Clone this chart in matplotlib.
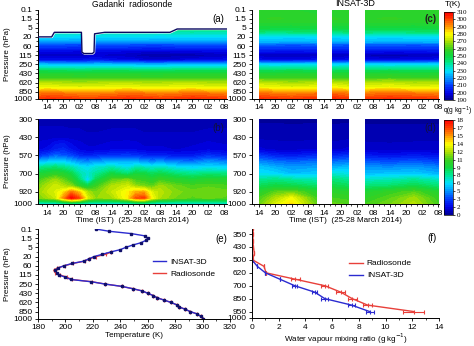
import numpy as np
import matplotlib
matplotlib.use('Agg')
import matplotlib.pyplot as plt
from matplotlib.colors import LinearSegmentedColormap
from matplotlib.lines import Line2D
from matplotlib.ticker import FixedLocator, FuncFormatter, MultipleLocator

plt.rcParams['font.family'] = ['Liberation Sans', 'DejaVu Sans']
nan = np.nan

# INSAT-3D retrieval levels (hPa); the pressure axes are spaced by level number
p_levels = [0.1, 0.2, 0.5, 1, 1.5, 2, 3, 4, 5, 7, 10, 15, 20, 25, 30, 50, 60, 70, 85, 100,
            115, 135, 150, 200, 250, 300, 350, 400, 430, 475, 500, 570, 620, 670, 700, 780,
            850, 920, 950, 1000]
p_ticks_full = [0.1, 1.5, 5, 20, 60, 115, 250, 430, 620, 850, 1000]
p_minor_full = [0.5, 3, 10, 30, 85, 150, 350, 500, 700]
p_ticks_low = [300, 430, 570, 700, 920, 1000]
p_ticks_f = [350, 430, 500, 620, 700, 850, 950, 1000]

# time in hours from 25 March 00 IST
time_ticks = [14, 20, 26, 32, 38, 44, 50, 56, 62, 68, 74, 80]
time_labels = ['14', '20', '02', '08', '14', '20', '02', '08', '14', '20', '02', '08']

T_cbar_ticks = [190, 200, 210, 220, 230, 240, 250, 260, 270, 280, 290, 300, 310]
q_cbar_ticks = [0, 1.5, 3, 4.5, 6, 7.5, 9, 10.5, 12, 13.5, 15, 16.5, 18]
q_cbar_labels = ['0', '2', '3', '5', '6', '8', '9', '11', '12', '14', '15', '17', '18']

# (a) Gadanki radiosonde temperature (K)
rs_time = [10.5, 14, 20, 26, 32, 38, 44, 50, 56, 62, 68, 74, 81]
rs_T_p = [5, 10, 20, 30, 60, 85, 115, 150, 250, 430, 620, 850, 1000]
rs_T = [
    [243, 243, 243, 243, 243, 243, 243, 243, 243, 243, 243, 243, 243],
    [236, 236, 236, 236, 237, 236, 236, 236, 236, 236, 237, 236, 236],
    [229, 229, 229, 228, 229, 229, 229, 229, 228, 229, 229, 229, 229],
    [221, 221, 221, 220, 221, 221, 221, 221, 220, 221, 221, 221, 221],
    [209, 209, 209, 208, 209, 209, 209, 208, 208, 209, 209, 209, 209],
    [201, 201, 201, 200, 201, 201, 200, 199, 199, 200, 200, 201, 201],
    [196, 196, 196, 196, 197, 196, 195, 193, 192, 193, 193, 194, 195],
    [201, 201, 201, 201, 202, 201, 200, 198, 197, 198, 199, 200, 201],
    [225, 224, 224, 223, 224, 224, 223, 222, 222, 223, 223, 224, 224],
    [253, 253, 253, 252, 253, 253, 253, 252, 252, 253, 253, 253, 253],
    [270, 270, 269, 268, 269, 270, 270, 269, 269, 270, 270, 269, 269],
    [289, 290, 289, 288, 288, 289, 290, 289, 288, 289, 290, 289, 288],
    [301, 303, 302, 300, 300, 301, 303, 302, 300, 301, 303, 302, 300],
]
# highest level reached by the soundings
rs_top_time = [10.5, 15.6, 16.6, 26.7, 26.9, 27.6, 30.8, 31.4, 31.6, 35.4, 59.7, 62.4, 81.0]
rs_top_hpa = [20, 20, 10, 10, 95, 104, 104, 95, 13, 10, 10, 6, 6]

# (b) Gadanki radiosonde water vapour mixing ratio (g/kg)
rsq_time = [10.5, 14, 17, 20, 23, 26, 29, 32, 38, 44, 47, 50, 53, 56, 62, 68, 74, 81]
rsq_p = [300, 430, 500, 570, 620, 670, 700, 780, 850, 920, 950, 1000]
rs_q = [
    [0.6, 0.6, 0.5, 0.5, 0.5, 0.5, 0.5, 0.5, 0.5, 0.5, 0.5, 0.5, 0.5, 0.5, 0.5, 0.5, 0.5, 0.5],
    [0.9, 0.9, 1.0, 1.0, 0.9, 0.9, 0.8, 0.8, 0.9, 0.9, 0.9, 0.8, 0.8, 0.8, 0.8, 0.8, 0.9, 0.9],
    [1.4, 1.6, 2.2, 2.4, 1.8, 1.4, 1.2, 1.2, 1.4, 1.5, 1.4, 1.2, 1.2, 1.2, 1.1, 1.2, 1.4, 1.2],
    [2.6, 3.0, 3.6, 3.4, 3.0, 2.4, 2.2, 2.4, 2.6, 2.8, 2.6, 2.4, 2.2, 2.2, 2.0, 2.0, 2.6, 2.2],
    [5.0, 5.4, 5.8, 5.6, 5.0, 4.4, 4.2, 4.6, 4.8, 5.0, 4.8, 4.4, 4.2, 4.4, 4.0, 3.8, 4.4, 4.0],
    [7.6, 8.0, 8.2, 7.8, 7.2, 6.4, 6.0, 6.6, 7.2, 6.2, 7.2, 7.0, 6.6, 7.0, 6.2, 5.8, 6.0, 5.8],
    [9.2, 9.6, 10.0, 9.6, 8.8, 7.2, 6.6, 7.4, 9.0, 8.0, 9.2, 9.0, 8.4, 8.8, 8.0, 7.6, 8.0, 7.8],
    [10.4, 11.2, 11.8, 11.0, 10.0, 8.2, 5.4, 8.6, 10.8, 11.4, 10.4, 10.2, 9.8, 10.4, 9.8, 9.4, 9.8, 9.6],
    [11.2, 12.0, 12.6, 12.0, 11.4, 9.8, 8.8, 10.2, 12.0, 12.6, 11.6, 11.2, 10.8, 11.8, 11.0, 10.6, 10.8, 10.6],
    [11.6, 12.4, 12.8, 13.8, 15.6, 14.2, 12.0, 11.2, 12.4, 13.6, 14.6, 14.8, 12.8, 12.2, 11.4, 11.0, 11.2, 11.0],
    [11.2, 11.8, 12.4, 15.2, 17.8, 16.2, 12.8, 11.6, 11.8, 13.8, 16.2, 16.6, 13.4, 12.0, 11.2, 10.8, 11.0, 10.8],
    [6.0, 6.0, 6.0, 6.2, 6.4, 6.2, 6.0, 6.0, 6.0, 6.0, 6.2, 6.2, 6.0, 6.0, 6.0, 6.0, 6.0, 6.0],
]

# (c) INSAT-3D temperature (K), nan = no retrieval
insat_time = [14, 20, 26, 35, 38, 41, 47, 50, 53, 62, 71, 80]
insat_T_p = [0.1, 1.5, 5, 10, 20, 60, 115, 150, 250, 430, 620, 850, 1000]
insat_T = [
    [255, 256, 255, 254, nan, 255, 256, nan, 255, 256, 255, 255],
    [257, 258, 257, 257, nan, 258, 257, nan, 257, 258, 257, 257],
    [251, 250, 250, 251, nan, 250, 251, nan, 250, 250, 250, 251],
    [242, 241, 242, 242, nan, 241, 242, nan, 242, 241, 242, 242],
    [229, 229, 228, 229, nan, 228, 229, nan, 229, 228, 229, 229],
    [211, 211, 210, 211, nan, 211, 210, nan, 211, 211, 210, 211],
    [195, 194, 194, 195, nan, 194, 195, nan, 194, 193, 194, 195],
    [201, 200, 200, 201, nan, 200, 201, nan, 200, 199, 200, 201],
    [228, 227, 228, 228, nan, 227, 228, nan, 228, 227, 228, 228],
    [252, 252, 253, 252, nan, 252, 252, nan, 252, 253, 252, 252],
    [271, 270, 268, 270, nan, 271, 269, nan, 270, 271, 269, 270],
    [290, 289, 288, 289, nan, 291, 289, nan, 289, 290, 289, 288],
    [303, 301, 300, 302, nan, 304, 301, nan, 301, 303, 302, 300],
]

# (d) INSAT-3D water vapour mixing ratio (g/kg)
insat_q_p = [300, 430, 500, 570, 620, 670, 700, 780, 850, 920, 950, 1000]
insat_q = [
    [0.3, 0.3, 0.3, 0.3, nan, 0.3, 0.3, nan, 0.3, 0.3, 0.3, 0.3],
    [0.6, 0.6, 0.5, 0.6, nan, 0.5, 0.6, nan, 0.5, 0.5, 0.5, 0.5],
    [1.2, 1.0, 1.0, 1.1, nan, 1.0, 1.2, nan, 1.0, 0.9, 1.0, 1.0],
    [2.8, 2.2, 2.0, 2.4, nan, 2.2, 2.6, nan, 2.0, 1.8, 2.0, 1.8],
    [4.2, 3.8, 3.6, 3.8, nan, 3.8, 4.0, nan, 3.4, 3.2, 3.4, 3.0],
    [5.5, 5.0, 4.6, 4.8, nan, 5.0, 5.4, nan, 4.5, 4.4, 4.6, 4.2],
    [6.0, 5.8, 5.2, 5.5, nan, 6.5, 6.2, nan, 5.2, 5.4, 5.5, 5.0],
    [7.5, 7.8, 7.4, 7.0, nan, 8.0, 7.5, nan, 6.8, 7.0, 7.5, 6.8],
    [8.5, 9.0, 8.8, 8.2, nan, 8.8, 8.5, nan, 8.0, 8.2, 8.8, 8.0],
    [9.8, 10.8, 11.2, 9.8, nan, 10.0, 9.8, nan, 9.5, 10.2, 10.8, 9.6],
    [10.5, 12.0, 13.2, 10.5, nan, 10.5, 10.3, nan, 10.0, 10.8, 11.8, 10.2],
    [11.0, 12.8, 14.0, 11.0, nan, 11.0, 10.8, nan, 10.5, 11.2, 12.2, 10.5],
]

# (e) temperature profiles (K)
insat_T_prof = [222, 232, 248, 258, 260, 258.5, 255, 249, 244, 240, 233, 227, 221, 217, 213.5,
                205, 199, 194.5, 192.7, 193.5, 195, 200, 204, 219, 229, 241, 249, 256, 260,
                264, 267, 272, 277, 281, 283, 287.5, 291, 296, 298.5, 300.5]
rs_T_prof_p = p_levels[10:]
rs_T_prof = [233.5, 229.5, 222.5, 217.5, 214, 205.5, 199.5, 194, 191.5, 192.5, 196, 201, 204.5,
             219.5, 229, 241, 249, 256, 260, 264, 267, 272, 277, 281, 283, 287.5, 291, 296,
             298.5, 300.5]

# (f) mixing ratio profiles (g/kg) with spread
rs_qprof_p = [300, 350, 400, 430, 475, 500, 570, 620, 670, 700, 780, 850, 920, 950]
rs_qprof = [0.08, 0.08, 0.07, 0.1, 0.18, 0.05, 0.9, 1.05, 3.25, 5.45, 6.65, 7.5, 8.65, 12.1]
rs_qprof_err = [0, 0, 0, 0, 0, 0, 0, 0, 0.35, 0.25, 0.35, 0.35, 0.35, 0.8]
insat_qprof_p = [500, 570, 620, 670, 700, 780, 850, 920, 950]
insat_qprof = [0.0, 0.4, 1.0, 2.1, 3.2, 4.7, 5.45, 7.45, 8.8]
insat_qprof_err = [0, 0, 0, 0, 0.2, 0.2, 0.25, 0.25, 0.3]

lev_idx = np.arange(len(p_levels))
log_lev = np.log(p_levels)


def p_to_idx(p):
    p = np.asarray(p, dtype=float)
    return np.interp(np.log(np.clip(p, 0.01, None)), log_lev, lev_idx)


def idx_to_p(i):
    return np.exp(np.interp(np.asarray(i, dtype=float), lev_idx, log_lev))


cmap = LinearSegmentedColormap.from_list('rainbow_origin', [
    (0.00, '#000090'), (0.08, '#0000e6'), (0.17, '#0040ff'), (0.25, '#0096ff'),
    (0.33, '#00e0ff'), (0.42, '#00e890'), (0.50, '#10d840'), (0.58, '#38d020'),
    (0.67, '#b0e000'), (0.75, '#ffff00'), (0.83, '#ffa000'), (0.92, '#ff4000'),
    (1.00, '#ff0000')])
T_levels = np.linspace(190, 310, 49)
q_levels = np.linspace(0, 18, 49)

W, H = 474, 346
fig = plt.figure(figsize=(W / 100, H / 100), dpi=100)


def add_ax(l, t, r, b):
    return fig.add_axes([l / W, 1 - b / H, (r - l) / W, (b - t) / H])


ax_a = add_ax(38, 9.5, 227, 98.5)
ax_c = add_ax(252, 9.5, 439, 98.5)
ax_b = add_ax(38, 119, 227, 204)
ax_d = add_ax(252, 119, 439, 204)
ax_e = add_ax(38, 229, 230, 318.5)
ax_f = add_ax(252, 229, 439, 318)
cax_T = add_ax(444, 12, 453, 100)
cax_q = add_ax(444, 120, 453, 215)

tick_kw = dict(direction='out', labelsize=6, pad=1.5, width=0.6)


def style(ax, ticks, ylim, minor=None):
    ax.set_yscale('function', functions=(p_to_idx, idx_to_p))
    ax.set_ylim(*ylim)
    ax.yaxis.set_major_locator(FixedLocator(ticks))
    ax.yaxis.set_major_formatter(FuncFormatter(lambda v, pos: '%g' % v))
    ax.yaxis.set_minor_locator(FixedLocator(minor if minor else []))
    for s in ['top', 'right']:
        ax.spines[s].set_visible(False)
    for s in ['left', 'bottom']:
        ax.spines[s].set_linewidth(0.7)
    ax.tick_params(which='major', length=2.5, **tick_kw)
    ax.tick_params(which='minor', length=1.5, width=0.5, direction='out')


def time_axis(ax, xlim):
    ax.set_xlim(*xlim)
    ax.set_xticks(time_ticks, time_labels)
    ax.xaxis.set_minor_locator(MultipleLocator(2))


# (a)
cs_T = ax_a.contourf(rs_time, rs_T_p, rs_T, levels=T_levels, cmap=cmap)
ax_a.fill_between(rs_top_time, rs_top_hpa, 0.1, color='white', zorder=2)
ax_a.plot(rs_top_time, rs_top_hpa, color='#0a0a60', lw=1, zorder=3)
style(ax_a, p_ticks_full, (1000, 0.1), p_minor_full)
time_axis(ax_a, (10.5, 81))
ax_a.set_ylabel('Pressure (hPa)', fontsize=5.8, labelpad=2)
ax_a.set_title('Gadanki  radiosonde', fontsize=6.2, pad=1.5)
ax_a.text(0.985, 0.86, '(a)', transform=ax_a.transAxes, ha='right', fontsize=7, zorder=4)

# (c)
ax_c.contourf(insat_time, insat_T_p, insat_T, levels=T_levels, cmap=cmap)
style(ax_c, p_ticks_full, (1000, 0.1), p_minor_full)
time_axis(ax_c, (11.4, 80.2))
ax_c.text(0.55, 1.02, 'INSAT-3D', transform=ax_c.transAxes, ha='center', va='bottom', fontsize=6.5)
ax_c.text(0.985, 0.86, '(c)', transform=ax_c.transAxes, ha='right', fontsize=7,
          fontweight='bold', color='#202020')

# (b)
cs_q = ax_b.contourf(rsq_time, rsq_p, rs_q, levels=q_levels, cmap=cmap)
style(ax_b, p_ticks_low, (1000, 300))
time_axis(ax_b, (10.5, 81))
ax_b.set_ylabel('Pressure (hPa)', fontsize=5.8, labelpad=2)
ax_b.set_xlabel('Time (IST)  (25-28 March 2014)', fontsize=5.8, labelpad=0)
ax_b.text(0.985, 0.86, '(b)', transform=ax_b.transAxes, ha='right', fontsize=7, color='#101040')

# (d)
ax_d.contourf(insat_time, insat_q_p, insat_q, levels=q_levels, cmap=cmap)
style(ax_d, p_ticks_low, (1000, 300))
time_axis(ax_d, (11.4, 80.2))
ax_d.set_xlabel('Time (IST)  (25-28 March 2014)', fontsize=5.8, labelpad=0)
ax_d.text(0.985, 0.86, '(d)', transform=ax_d.transAxes, ha='right', fontsize=7, color='#101040')

# (e)
ax_e.plot(rs_T_prof, rs_T_prof_p, color='#e8403a', lw=1, marker='|', ms=2.5, mew=0.8)
ax_e.plot(insat_T_prof, p_levels, color='#2b2bd0', lw=1, marker='s', ms=1.6,
          mfc='#10106a', mec='#10106a')
style(ax_e, p_ticks_full, (1000, 0.1), p_minor_full)
ax_e.set_xlim(180, 320)
ax_e.xaxis.set_major_locator(MultipleLocator(20))
ax_e.xaxis.set_minor_locator(MultipleLocator(10))
ax_e.set_xlabel('Temperature (K)', fontsize=5.8, labelpad=1)
ax_e.set_ylabel('Pressure (hPa)', fontsize=5.8, labelpad=2)
ax_e.text(0.985, 0.86, '(e)', transform=ax_e.transAxes, ha='right', fontsize=7)
ax_e.legend([Line2D([], [], color='#2b2bd0', lw=1), Line2D([], [], color='#e8403a', lw=1)],
            ['INSAT-3D', 'Radiosonde'], loc='upper left', bbox_to_anchor=(0.56, 0.76),
            frameon=False, fontsize=6, handlelength=1.6, handletextpad=0.5, labelspacing=0.5)

# (f)
ax_f.errorbar(rs_qprof, rs_qprof_p, xerr=rs_qprof_err, color='#e8403a', lw=1,
              marker='|', ms=3, mew=0.8, capsize=1.5, elinewidth=0.8)
ax_f.errorbar(insat_qprof, insat_qprof_p, xerr=insat_qprof_err, color='#2b2bd0', lw=1,
              marker='|', ms=3, mew=0.8, capsize=1.5, elinewidth=0.8)
style(ax_f, p_ticks_f, (1000, 310))
ax_f.set_xlim(0, 14)
ax_f.xaxis.set_major_locator(MultipleLocator(2))
ax_f.xaxis.set_minor_locator(MultipleLocator(1))
ax_f.set_xlabel('Water vapour mixing ratio (g kg$^{-1}$)', fontsize=5.8, labelpad=0.5)
ax_f.text(0.985, 0.86, '(f)', transform=ax_f.transAxes, ha='right', fontsize=7)
ax_f.legend([Line2D([], [], color='#e8403a', lw=1), Line2D([], [], color='#2b2bd0', lw=1)],
            ['Radiosonde', 'INSAT-3D'], loc='upper left', bbox_to_anchor=(0.48, 0.74),
            frameon=False, fontsize=6, handlelength=1.6, handletextpad=0.5, labelspacing=0.5)

# colour bars
cb_T = fig.colorbar(cs_T, cax=cax_T, ticks=T_cbar_ticks)
cb_q = fig.colorbar(cs_q, cax=cax_q, ticks=q_cbar_ticks)
cb_q.set_ticklabels(q_cbar_labels)
for cb in (cb_T, cb_q):
    cb.outline.set_linewidth(0.5)
    cb.ax.tick_params(length=1.5, width=0.5, pad=1, labelsize=5)
    for lab in cb.ax.get_yticklabels():
        lab.set_family(['Liberation Serif', 'DejaVu Serif'])
fig.text(445 / W, 1 - 5 / H, 'T(K)', fontsize=6, va='center', ha='left')
fig.text(443 / W, 1 - 111 / H, 'q(g kg$^{-1}$)', fontsize=4.8, va='center', ha='left')

fig.savefig('out.png', dpi=100)
